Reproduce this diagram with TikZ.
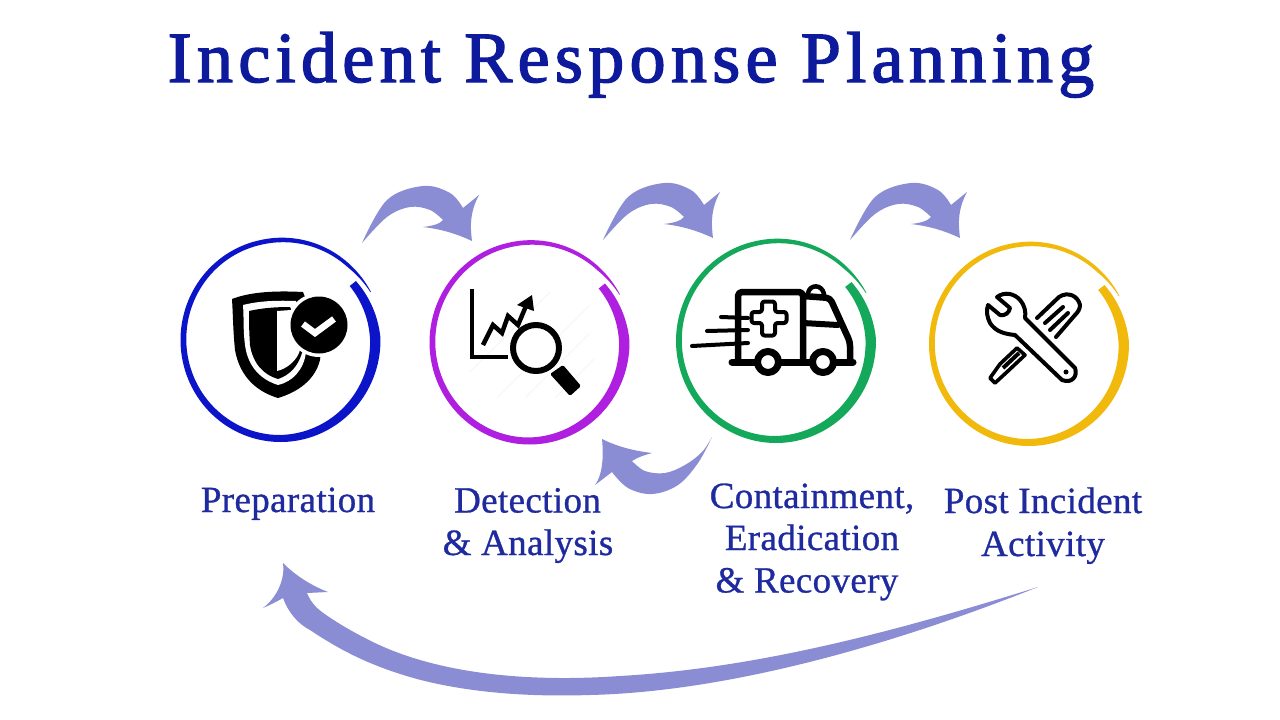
\documentclass[tikz,border=0pt]{standalone}
\usepackage{fontspec}
\setmainfont{Liberation Serif}
\newfontfamily\titlefont[LetterSpace=7.4,FakeBold=2]{Liberation Serif}
\newfontfamily\labelfont[LetterSpace=1.0,FakeBold=0.8]{Liberation Serif}
\definecolor{titleblue}{HTML}{0E1A9C}
\definecolor{labelblue}{HTML}{1E2A9E}
\definecolor{arrowblue}{HTML}{8A8DD3}
\definecolor{ringblue}{HTML}{0B14C8}
\definecolor{ringpurple}{HTML}{AE1FE0}
\definecolor{ringgreen}{HTML}{14A85A}
\definecolor{ringyellow}{HTML}{F0B90C}
\newcommand{\ringshape}[3]{%
  \fill[#3] plot[domain=38:-332,samples=180,smooth] ({#1+ringo((38-\x)/370,\x)*cos(\x)},{#2-ringo((38-\x)/370,\x)*sin(\x)})
    -- plot[domain=-332:38,samples=180,smooth] ({#1+(ringo((38-\x)/370,\x)-ringw((38-\x)/370))*cos(\x)},{#2-(ringo((38-\x)/370,\x)-ringw((38-\x)/370))*sin(\x)}) -- cycle;}
\newcommand{\uparrowshape}[2]{%
  \begin{scope}[shift={(#1,#2)}]
  \fill[arrowblue] plot[smooth,tension=.6] coordinates {(362,243) (387,200) (423,186) (450,193) (463,208)}
    -- (479,195) .. controls (470,212) and (470,225) .. (472,241)
    .. controls (455,233) and (440,229) .. (423,227)
    .. controls (432,226) and (440,224) .. (443,220)
    -- plot[smooth,tension=.6] coordinates {(443,220) (430,210) (410,207) (387,217) (362,243)} -- cycle;
  \end{scope}}
\tikzset{
  lab/.style={anchor=base,text=labelblue,font=\labelfont\fontsize{37}{37}\selectfont,inner sep=0pt},
  icon/.style={draw=black,line width=#1,line join=round,line cap=round},
  declare function={
    ringw(\t)=(\t<0.1)?(8+25*\t):((\t<0.346)?(10.5-14*(\t-0.1)):((\t<0.83)?(7-5*(\t-0.346)):((\t<0.95)?(4.6-10*(\t-0.83)):(3.4-56*(\t-0.95)))));
    ringo(\t,\a)=101+cos(2*\a+180)-((\t<0.1)?(5*(1-\t/0.1)):0)+((\t>0.8)?(10*(\t-0.8)):0);
  }
}
\begin{document}
\begin{tikzpicture}[x=1pt,y=-1pt]
\useasboundingbox (0,0) rectangle (1280,720);
\fill[white] (0,0) rectangle (1280,720);

\node[anchor=base,inner sep=0pt,text=titleblue,font=\titlefont\fontsize{72}{72}\selectfont] (title) at (631,82) {Incident Response Planning};

% rings
\ringshape{280.5}{340}{ringblue}
\ringshape{529.5}{342.5}{ringpurple}
\ringshape{776}{341}{ringgreen}
\ringshape{1029}{344}{ringyellow}

% upper arrows
\uparrowshape{0}{0}
\uparrowshape{241}{-3}
\uparrowshape{488}{-3}

% return arrow
\fill[arrowblue] plot[smooth,tension=.6] coordinates {(712,437) (698,463) (678,485) (652,494) (628,488) (612,472)}
  -- (595,485) .. controls (602,476) and (604,458) .. (602,439)
  .. controls (618,447) and (635,451) .. (652,453)
  .. controls (645,455) and (638,457) .. (632,461)
  -- plot[smooth,tension=.6] coordinates {(632,461) (645,471) (665,473) (685,465) (702,452) (712,437)} -- cycle;

% long arrow
\fill[arrowblue] (1038,587) .. controls (900,630) and (760,668) .. (620,676)
  .. controls (520,683) and (430,672) .. (367,639)
  .. controls (345,628) and (325,615) .. (317,608)
  .. controls (312,603) and (309,598) .. (307,593)
  -- (328,592) .. controls (310,585) and (295,575) .. (283,563)
  .. controls (285,575) and (280,595) .. (263,608)
  .. controls (270,605) and (276,602) .. (283,598)
  .. controls (288,612) and (298,624) .. (310,630)
  .. controls (340,650) and (370,666) .. (417,679)
  .. controls (470,693) and (530,697) .. (590,695)
  .. controls (720,692) and (880,650) .. (1038,587) -- cycle;

% labels
\node[lab] (l1) at (288,512) {Preparation};
\node[lab] (l2a) at (527.5,512.5) {Detection};
\node[lab] (l2b) at (528,555) {\& Analysis};
\node[lab] (l3a) at (812,508) {Containment,};
\node[lab] (l3b) at (812,550) {Eradication};
\node[lab] (l3c) at (807,592.5) {\& Recovery};
\node[lab] (l4a) at (1043,513) {Post Incident};
\node[lab] (l4b) at (1043,556) {Activity};

% shield icon
\fill[black] (232,299) .. controls (245,294) and (265,290) .. (303,292) -- (322,340) -- (320,360)
  .. controls (315,380) and (298,392) .. (278,398)
  .. controls (258,392) and (240,378) .. (235,350)
  .. controls (233,330) and (233,315) .. (232,299) -- cycle;
\fill[white] (243,305) .. controls (255,302) and (270,300) .. (296,301) -- (312,340) -- (306,352)
  .. controls (304,370) and (292,382) .. (278,385)
  .. controls (262,380) and (248,368) .. (245,345)
  .. controls (243,330) and (244,318) .. (243,305) -- cycle;
\fill[black] (249,311) .. controls (258,309) and (270,307) .. (290,307) -- (306,340) -- (302,353)
  .. controls (298,366) and (290,375) .. (278,379)
  .. controls (264,375) and (253,364) .. (250,345)
  .. controls (249,330) and (249,320) .. (249,311) -- cycle;
\fill[white] (277,311) -- (291,310) -- (303,340) -- (299,353)
  .. controls (295,362) and (286,369) .. (277,371) -- cycle;
\fill[white] (319,325) circle (32);
\fill[black] (319,325) circle (28.5);
\draw[white,line width=6.5,line cap=butt,line join=miter] (303,324) -- (315,333) -- (334,319);

% chart icon
\foreach \xa/\ya/\xb/\yb in {470/372/550/292, 497/398/590/305, 525/398/590/333, 555/398/595/358}
  \draw[gray!10,line width=.6] (\xa,\ya) -- (\xb,\yb);
\draw[icon=3.8,line cap=butt,line join=miter] (472,289) -- (472,357) -- (508,357);
\draw[icon=4.5,line cap=butt,line join=miter] (483,345) -- (493,325) -- (502,333) -- (508,316) -- (518,325) -- (526,306);
\fill[black] (532,295) -- (517,305) -- (534,311) -- cycle;
\draw[icon=6,fill=white] (536,348) circle (23);
\fill[black,rounded corners=1.5] (550,374) -- (563,365) -- (581,386) -- (570,396) -- cycle;

% ambulance icon
\draw[icon=4] (721,317) -- (748,318);
\draw[icon=4] (707,331) -- (748,330);
\draw[icon=4] (692,346) -- (748,343);
\draw[icon=6.5,rounded corners=4] (738,362) -- (738,292) -- (803,292) -- (803,362);
\draw[icon=6.5,rounded corners=4] (803,296) -- (830,298) -- (850,342) -- (850,362);
\draw[icon=6] (803,323) -- (838,325);
\draw[icon=4.5] (808,293) .. controls (810,284) and (822,284) .. (824,294);
\draw[icon=7] (732,362) -- (853,362);
\draw[icon=4,fill=white,rounded corners=2.5] (762,301.5) -- (775,301.5) -- (775,312) -- (786.5,312) -- (786.5,323) -- (775,323) -- (775,335.5) -- (762,335.5) -- (762,323) -- (751.5,323) -- (751.5,312) -- (762,312) -- cycle;
\draw[icon=7,fill=white] (768,362) circle (10.5);
\draw[icon=7,fill=white] (823,362) circle (10.5);

% tools icon
\draw[icon=4,fill=white] (1037,318) -- (1059,297) .. controls (1068,291) and (1078,296) .. (1080,305) .. controls (1080,309) and (1078,312) .. (1075,315) -- (1056,337);
\draw[icon=4] (1045,323) -- (1063,307);
\draw[icon=4] (1050,330) -- (1068,313);
\draw[icon=3.6,fill=white] (1017,348) -- (1025,355) -- (1008,371) -- (995,383) -- (990,378) -- (1000,364) -- cycle;
\draw[black,line width=4] (1019,353) -- (1003,368);
\draw[icon=4,fill=white] (988,305) -- (1000,315) .. controls (1005,316) and (1009,313) .. (1010,308) -- (997,297)
  .. controls (1005,291) and (1015,294) .. (1020,300) .. controls (1025,306) and (1026,312) .. (1025,318)
  -- (1075,368) .. controls (1078,376) and (1072,384) .. (1062,380)
  -- (1015,335) .. controls (1005,334) and (996,332) .. (990,323) .. controls (987,317) and (986,311) .. (988,305) -- cycle;
\fill[black] (1066,372) circle (2.5);

\end{tikzpicture}
\end{document}
